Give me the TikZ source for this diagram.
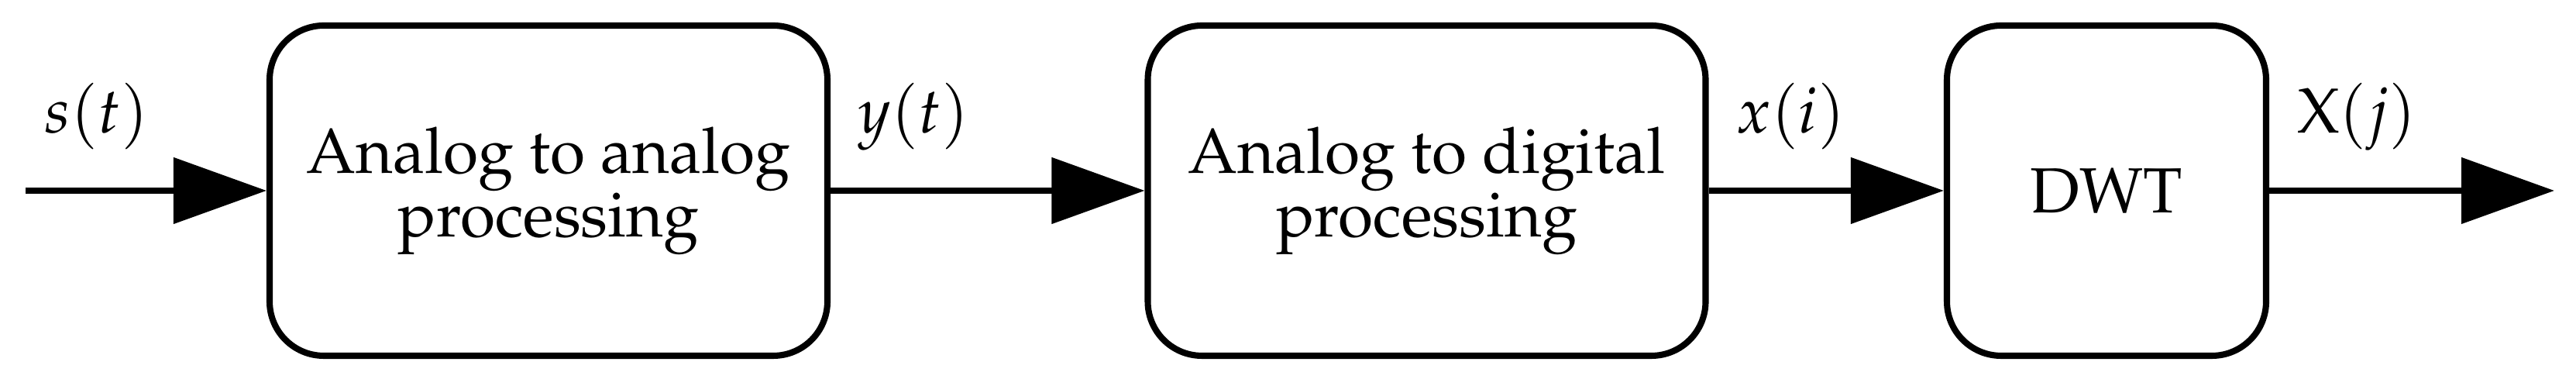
\documentclass[tikz,border=0pt]{standalone}
\usepackage[T1]{fontenc}
\usepackage{mathpazo}
\usetikzlibrary{arrows.meta,shapes}

\begin{document}
\begin{tikzpicture}[
  block/.style={draw=black,line width=1.15pt,rounded corners=0.35cm,minimum height=2.13cm,align=center,inner sep=0pt,font=\fontsize{11.7}{11.7}\selectfont},
  flow/.style={line width=1.15pt,-{Triangle[length=0.6cm,width=0.42cm]}},
  sig/.style={anchor=base,yshift=0.37cm,inner sep=0pt,font=\fontsize{11.7}{11.7}\selectfont}]
\useasboundingbox (0,0) rectangle (16.625,2.49);
\node[block,minimum width=3.6cm] (aa) at (3.54,1.26) {Analog to analog\\processing};
\node[block,minimum width=3.6cm] (ad) at (9.2075,1.26) {Analog to digital\\processing};
\node[block,minimum width=2.06cm] (dwt) at (13.595,1.26) {DWT};
\coordinate (in) at (0.165,1.26);
\coordinate (out) at (16.485,1.26);
\draw[flow] (in) -- (aa.west) node[sig,pos=0.294] {$s(t)$};
\draw[flow] (aa.east) -- (ad.west) node[sig,pos=0.263] {$y(t)$};
\draw[flow] (ad.east) -- (dwt.west) node[sig,pos=0.348] {$x(i)$};
\draw[flow] (dwt.east) -- (out) node[sig,pos=0.306] {$\mathrm{X}(j)$};
\end{tikzpicture}
\end{document}
